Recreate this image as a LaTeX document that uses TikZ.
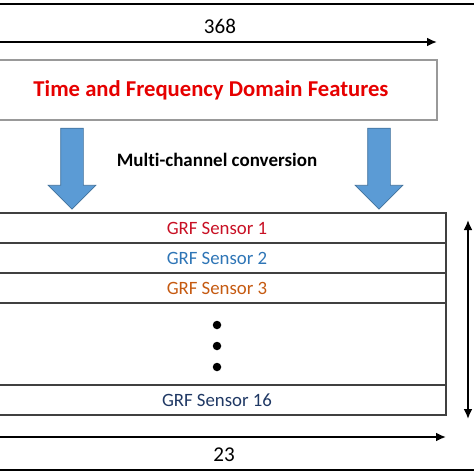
\documentclass[tikz,border=0pt]{standalone}
\usepackage{fontspec}
\setmainfont{Carlito}[Ligatures=NoCommon]
\usetikzlibrary{positioning, arrows.meta, shapes.arrows}
\definecolor{featred}{RGB}{230, 0, 0}
\definecolor{sensred}{RGB}{200, 16, 36}
\definecolor{sensblue}{RGB}{46, 117, 182}
\definecolor{sensorange}{RGB}{197, 90, 17}
\definecolor{sensnavy}{RGB}{31, 56, 100}
\definecolor{convfill}{RGB}{91, 155, 213}
\definecolor{convdraw}{RGB}{65, 113, 156}

\begin{document}
\begin{tikzpicture}[x=0.2mm, y=-0.2mm,
                featbox/.style={draw=gray!80, line width=0.6pt, minimum width=90.4mm,
                    minimum height=12mm, inner sep=0pt, outer sep=0pt},
                row/.style={draw=black!75, line width=0.6pt, minimum width=91.6mm,
                    minimum height=6mm, inner sep=0pt, outer sep=0pt,
                    font=\fontsize{10.7}{12}\selectfont},
                convarrow/.style={single arrow, draw=convdraw, fill=convfill,
                    shape border rotate=270, minimum width=9.4mm, minimum height=16.2mm,
                    single arrow head extend=2.5mm, inner sep=2.2mm},
                dimarrow/.style={line width=1.1pt, -{Latex[length=2mm, width=1.8mm]}},
                dimlabel/.style={font=\fontsize{12}{14}\selectfont}
            ]
            \useasboundingbox (0,0) rectangle (474,474);
            \clip (0,0) rectangle (474,474);

            % frame edges
            \draw[line width=1.1pt] (-10,4) -- (484,4);
            \draw[line width=1.1pt] (-10,470) -- (484,470);

            % feature block
            \node[featbox] (feat) at (211,90)
                {\fontsize{12.9}{15}\selectfont\bfseries\color{featred}Time and Frequency Domain Features};

            \coordinate (w0) at (-20,42);
            \coordinate (w1) at (437,42);
            \draw[dimarrow] (w0) -- (w1);
            \node[dimlabel] (wlab) at (220,26) {368};

            % conversion
            \node[convarrow] (conv1) at (72,163) {};
            \node[convarrow] (conv2) at (379,163) {};
            \node[font=\fontsize{10.8}{13}\selectfont\bfseries] (convlab) at (217,160)
                {Multi-channel conversion};

            % sensor channels
            \node[row, text=sensred] (s1) at (217,228) {GRF Sensor 1};
            \node[row, text=sensblue, below=0pt of s1] (s2) {GRF Sensor 2};
            \node[row, text=sensorange, below=0pt of s2] (s3) {GRF Sensor 3};
            \node[row, minimum height=16.4mm, below=0pt of s3] (gap) {};
            \node[row, text=sensnavy, below=0pt of gap] (s16) {GRF Sensor 16};
            \foreach \y in {325,346,367}
                \fill (217,\y) circle (0.85mm);

            \coordinate (h0) at (468,220);
            \coordinate (h1) at (468,419);
            \draw[dimarrow, {Latex[length=2mm, width=1.8mm]}-{Latex[length=2mm, width=1.8mm]}] (h0) -- (h1);

            \coordinate (b0) at (-20,437);
            \coordinate (b1) at (446,437);
            \draw[dimarrow] (b0) -- (b1);
            \node[dimlabel] (blab) at (224,455) {23};

            \end{tikzpicture}
\end{document}
